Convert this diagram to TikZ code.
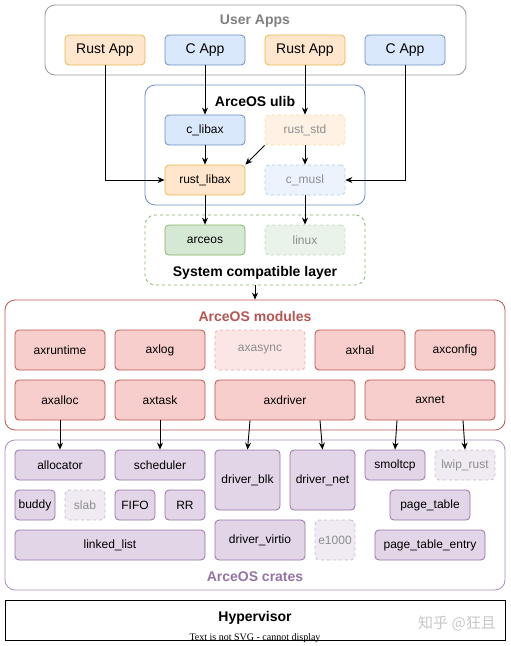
\documentclass[tikz,border=0pt]{standalone}
\usepackage{fontspec}
\setmainfont{Liberation Sans}
\newfontfamily\serifa{Liberation Serif}
\newfontfamily\cjk{Noto Sans CJK SC}
\usepackage{tikz}
\usetikzlibrary{arrows.meta}
\usetikzlibrary{calc}

\definecolor{nfill}{HTML}{FFE6CC}\definecolor{ndraw}{HTML}{D79B00}
\definecolor{afill}{HTML}{DAE8FC}\definecolor{adraw}{HTML}{6C8EBF}
\definecolor{vfill}{HTML}{D5E8D4}\definecolor{vdraw}{HTML}{82B366}
\definecolor{rfill}{HTML}{F8CECC}\definecolor{rdraw}{HTML}{B85450}
\definecolor{mfill}{HTML}{E1D5E7}\definecolor{mdraw}{HTML}{9673A6}

\tikzset{
  caja/.style={draw, rounded corners=4pt, line width=0.8pt, inner sep=0pt,
    minimum width=80, minimum height=30, font=\fontsize{12}{14}\selectfont},
  grupo/.style={draw, rounded corners=10pt, line width=0.8pt, inner sep=0pt},
  titulo/.style={font=\fontsize{14}{16}\selectfont\bfseries},
  naranja/.style={caja, fill=nfill, draw=ndraw!70},
  azul/.style={caja, fill=afill, draw=adraw},
  verde/.style={caja, fill=vfill, draw=vdraw},
  rojo/.style={caja, fill=rfill, draw=rdraw, minimum width=90, minimum height=40},
  morado/.style={caja, fill=mfill, draw=mdraw, minimum width=90},
  tenue/.style={dashed, draw opacity=.45, fill opacity=.5, text opacity=1, text=black!45},
}

\begin{document}
\begin{tikzpicture}[x=1pt, y=-1pt, >={Stealth[length=7pt,width=6pt]}]
  \useasboundingbox (0,0) rectangle (511,646);

  % Contenedores
  \node[grupo, draw=black!40, minimum width=421, minimum height=70] (user) at (255.5,40) {};
  \node[grupo, draw=adraw, minimum width=220, minimum height=120] (ulib) at (255,145) {};
  \node[grupo, draw=vdraw, dashed, minimum width=220, minimum height=70] (compat) at (255,250) {};
  \node[grupo, draw=rdraw, minimum width=500, minimum height=130] (mods) at (255,365) {};
  \node[grupo, draw=mdraw!80, minimum width=500, minimum height=150] (crates) at (255,515) {};
  \node[draw, line width=0.8pt, inner sep=0pt, minimum width=500, minimum height=40] (hyper) at (255,620) {};

  % Titulos
  \node[titulo, text=black!50] (tuser) at (255,21) {User Apps};
  \node[titulo] (tulib) at (255,101) {ArceOS ulib};
  \node[titulo] (tcompat) at (255,273) {System compatible layer};
  \node[titulo, text=rdraw] (tmods) at (255,316) {ArceOS modules};
  \node[titulo, text=mdraw] (tcrates) at (255,577) {ArceOS crates};
  \node[titulo] (thyper) at (255,618) {Hypervisor};
  \node[font=\serifa\fontsize{10}{11}\selectfont, inner sep=0pt] (nosvg) at (255,638) {Text is not SVG - cannot display};
  \node[font=\cjk\fontsize{15}{17}\selectfont, text=black!22] (marca) at (457,623) {知乎 @狂且};

  % Aplicaciones
  \node[naranja, font=\fontsize{14}{16}\selectfont] (rapp1) at (105,50) {Rust App};
  \node[azul, font=\fontsize{14}{16}\selectfont] (capp1) at (205,50) {C App};
  \node[naranja, font=\fontsize{14}{16}\selectfont] (rapp2) at (305,50) {Rust App};
  \node[azul, font=\fontsize{14}{16}\selectfont] (capp2) at (405,50) {C App};

  % ulib
  \node[azul] (clibax) at (205,130) {c\_libax};
  \node[naranja, tenue] (rstd) at (305,130) {rust\_std};
  \node[naranja] (rlibax) at (205,180) {rust\_libax};
  \node[azul, tenue] (cmusl) at (305,180) {c\_musl};

  % Capa compatible
  \node[verde] (arceos) at (205,240) {arceos};
  \node[verde, tenue] (linux) at (305,240) {linux};

  % Modulos
  \node[rojo] (axruntime) at (60,350) {axruntime};
  \node[rojo] (axlog) at (160,350) {axlog};
  \node[rojo, tenue] (axasync) at (260,350) {axasync};
  \node[rojo] (axhal) at (360,350) {axhal};
  \node[rojo, minimum width=80] (axconfig) at (455,350) {axconfig};
  \node[rojo] (axalloc) at (60,400) {axalloc};
  \node[rojo] (axtask) at (160,400) {axtask};
  \node[rojo, minimum width=140] (axdriver) at (285,400) {axdriver};
  \node[rojo, minimum width=130] (axnet) at (430,400) {axnet};

  % Crates
  \node[morado] (allocator) at (60,465) {allocator};
  \node[morado] (scheduler) at (160,465) {scheduler};
  \node[morado, minimum width=40] (buddy) at (35,505) {buddy};
  \node[morado, minimum width=40, tenue] (slab) at (85,505) {slab};
  \node[morado, minimum width=40] (fifo) at (135,505) {FIFO};
  \node[morado, minimum width=40] (rr) at (185,505) {RR};
  \node[morado, minimum width=190] (llist) at (110,545) {linked\_list};
  \node[morado, minimum width=65, minimum height=60] (dblk) at (247.5,480) {driver\_blk};
  \node[morado, minimum width=65, minimum height=60] (dnet) at (322.5,480) {driver\_net};
  \node[morado, minimum height=40] (dvirtio) at (260,540) {driver\_virtio};
  \node[morado, minimum width=40, minimum height=40, tenue] (e1000) at (335,540) {e1000};
  \node[morado, minimum width=60] (smoltcp) at (395,465) {smoltcp};
  \node[morado, minimum width=60, tenue] (lwip) at (465,465) {lwip\_rust};
  \node[morado, minimum width=80] (ptable) at (430,505) {page\_table};
  \node[morado, minimum width=110] (pentry) at (430,545) {page\_table\_entry};

  % Conexiones
  \draw[->, line width=0.9pt] (rapp1.south) |- (rlibax.west);
  \draw[->, line width=0.9pt] (capp1.south) -- (clibax.north);
  \draw[->, line width=0.9pt] (rapp2.south) -- (rstd.north);
  \draw[->, line width=0.9pt] (capp2.south) |- (cmusl.east);
  \draw[->, line width=0.9pt] (clibax) -- (rlibax);
  \draw[->, line width=0.9pt] (rstd.south west) -- (rlibax.north east);
  \draw[->, line width=0.9pt] (rstd) -- (cmusl);
  \draw[->, line width=0.9pt] (rlibax) -- (arceos);
  \draw[->, line width=0.9pt] (cmusl) -- (linux);
  \draw[->, line width=0.9pt] (compat) -- (mods);
  \draw[->, line width=0.9pt] (axalloc) -- (allocator);
  \draw[->, line width=0.9pt] (axtask) -- (scheduler);
  \draw[->, line width=0.9pt] ([xshift=-35]axdriver.south) -- (dblk.north);
  \draw[->, line width=0.9pt] ([xshift=35]axdriver.south) -- (dnet.north);
  \draw[->, line width=0.9pt] ([xshift=-33]axnet.south) -- (smoltcp.north);
  \draw[->, line width=0.9pt] ([xshift=33]axnet.south) -- (lwip.north);
\end{tikzpicture}
\end{document}
